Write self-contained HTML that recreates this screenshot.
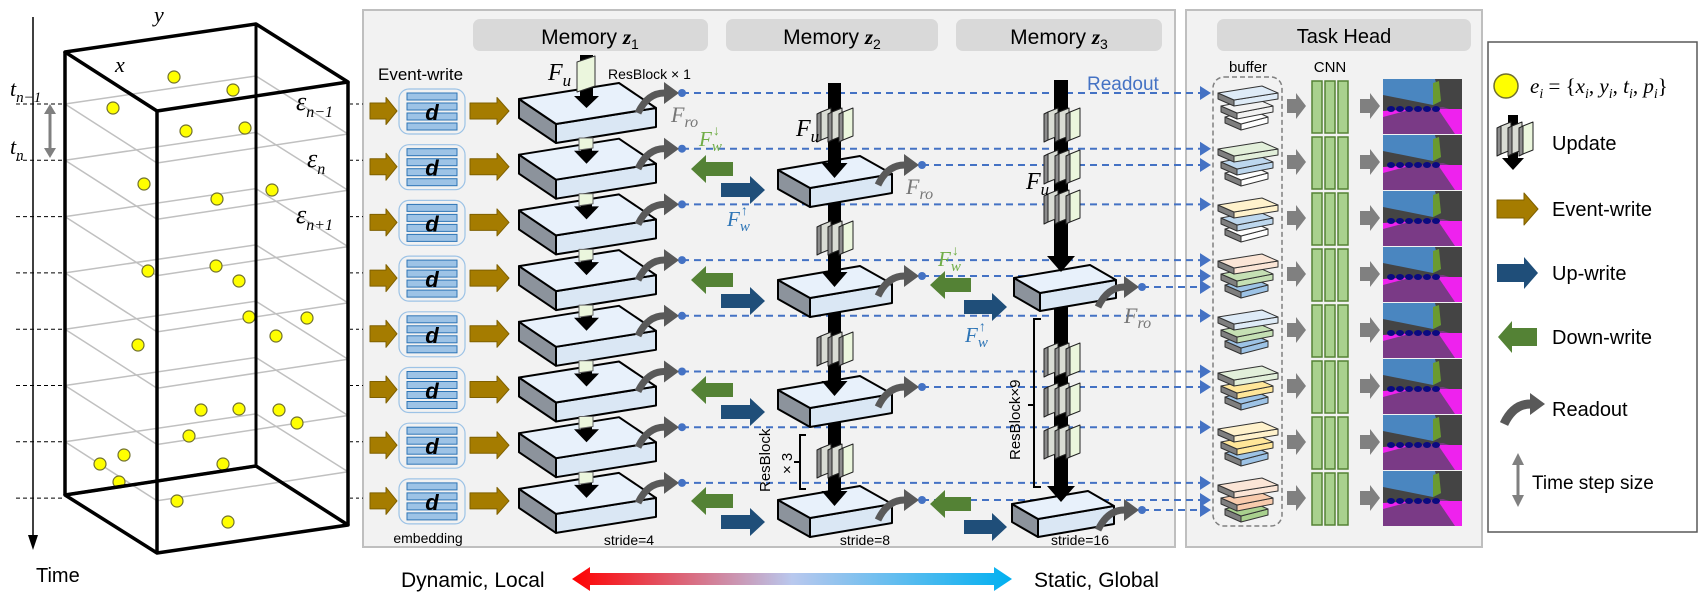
<!DOCTYPE html>
<html><head><meta charset="utf-8">
<style>
html,body{margin:0;padding:0;background:#fff;}
svg{display:block;}
text{font-family:"Liberation Sans",sans-serif;}
.it{font-family:"Liberation Serif",serif;font-style:italic;}
</style></head>
<body>
<svg id="s" width="1703" height="599" viewBox="0 0 1703 599" xmlns="http://www.w3.org/2000/svg">
<defs>
<linearGradient id="grad" x1="0" x2="1" y1="0" y2="0">
<stop offset="0" stop-color="#ff0000"/><stop offset="0.5" stop-color="#b9c8ee"/><stop offset="1" stop-color="#00b0f0"/>
</linearGradient>
</defs>
<!-- panels -->
<rect x="363" y="10" width="812" height="537" fill="#f2f2f2" stroke="#bfbfbf" stroke-width="2"/>
<rect x="1186" y="10" width="296" height="537" fill="#f2f2f2" stroke="#bfbfbf" stroke-width="2"/>
<rect x="1488" y="42" width="209" height="490" fill="#fff" stroke="#595959" stroke-width="1.5"/>
<rect x="473" y="19" width="235" height="32" rx="7" fill="#d9d9d9"/>
<rect x="726" y="19" width="212" height="32" rx="7" fill="#d9d9d9"/>
<rect x="956" y="19" width="206" height="32" rx="7" fill="#d9d9d9"/>
<rect x="1217" y="19" width="254" height="32" rx="7" fill="#d9d9d9"/>
<text x="590" y="44" font-size="21" text-anchor="middle">Memory <tspan font-family="Liberation Serif" font-weight="bold" font-style="italic">z</tspan><tspan font-size="14" dy="5">1</tspan></text>
<text x="832" y="44" font-size="21" text-anchor="middle">Memory <tspan font-family="Liberation Serif" font-weight="bold" font-style="italic">z</tspan><tspan font-size="14" dy="5">2</tspan></text>
<text x="1059" y="44" font-size="21" text-anchor="middle">Memory <tspan font-family="Liberation Serif" font-weight="bold" font-style="italic">z</tspan><tspan font-size="14" dy="5">3</tspan></text>
<text x="1344" y="43" font-size="20" text-anchor="middle">Task Head</text>
<g id="g"></g>
</svg>
<script>
var g=document.getElementById('g');var h='';
function P(pts,f,s,w){return '<polygon points="'+pts.map(function(p){return p[0].toFixed(1)+','+p[1].toFixed(1)}).join(' ')+'" fill="'+f+'" stroke="'+(s||'none')+'" stroke-width="'+(w||1)+'" stroke-linejoin="round"/>';}
function L(x1,y1,x2,y2,c,w,extra){return '<line x1="'+x1+'" y1="'+y1+'" x2="'+x2+'" y2="'+y2+'" stroke="'+c+'" stroke-width="'+w+'" '+(extra||'')+'/>';}
function T(x,y,s,size,extra){return '<text x="'+x+'" y="'+y+'" font-size="'+size+'" '+(extra||'')+'>'+s+'</text>';}
// ---- cube ----
var TF=[[65,52],[256,24],[348,82],[157,111]];
for(var k=0;k<7;k++){var dy=52+56.3*k;var q=TF.map(function(p){return [p[0],p[1]+dy]});
 h+=P(q,'none','#c0c0c0',1.5);}
// dashed lines left
for(var k=0;k<8;k++){var y=104+56.3*k;h+=L(16,y,65,y,'#000',1,'stroke-dasharray="4,3"');h+=L(350,y,363,y,'#000',1,'stroke-dasharray="3,3"');}
// dots
var dots=[[174,77],[233,90],[113,108],[186,131],[245,128],[144,184],[217,199],[272,190],[148,271],[216,266],[239,281],[249,317],[307,318],[138,345],[276,336],[201,410],[239,409],[279,410],[297,423],[189,436],[124,455],[100,464],[223,464],[119,482],[177,501],[228,522]];
dots.forEach(function(d){h+='<circle cx="'+d[0]+'" cy="'+d[1]+'" r="6" fill="#ffff00" stroke="#707030" stroke-width="1.2"/>';});
var blk='#000';
h+=P([[65,52],[256,24],[348,82],[157,111]],'none',blk,3.5);
h+=L(65,52,65,495,blk,3.5)+L(157,111,157,553,blk,3.5)+L(348,82,348,525,blk,3.5)+L(256,24,256,466,blk,3);
h+=P([[65,495],[157,553],[348,525],[256,466]],'none',blk,3.5);
h+=L(65,495,256,466,blk,3);
h+='<text x="154" y="22" font-size="22" class="it">y</text><text x="115" y="72" font-size="22" class="it">x</text>';
// time axis
h+=L(33,17,33,536,'#000',1.5)+P([[28,535],[38,535],[33,550]],'#000');
h+=T(36,582,'Time',20);
h+='<text x="10" y="96" font-size="22" class="it">t<tspan font-size="15" dy="6">n−1</tspan></text>';
h+='<text x="10" y="154" font-size="22" class="it">t<tspan font-size="15" dy="6">n</tspan></text>';
h+=L(50,112,50,150,'#808080',3)+P([[44,114],[56,114],[50,104]],'#808080')+P([[44,148],[56,148],[50,158]],'#808080');
h+='<text x="296" y="110" font-size="26" class="it">ε<tspan font-size="16" dy="7">n−1</tspan></text>';
h+='<text x="307" y="167" font-size="26" class="it">ε<tspan font-size="16" dy="7">n</tspan></text>';
h+='<text x="296" y="223" font-size="26" class="it">ε<tspan font-size="16" dy="7">n+1</tspan></text>';
// ---- arrows helpers ----
function arrR(x1,x2,y,sh,hh,hl,f,s){return P([[x1,y-sh/2],[x2-hl,y-sh/2],[x2-hl,y-hh/2],[x2,y],[x2-hl,y+hh/2],[x2-hl,y+sh/2],[x1,y+sh/2]],f,s,1);}
function arrL(x1,x2,y,sh,hh,hl,f,s){return P([[x2,y-sh/2],[x1+hl,y-sh/2],[x1+hl,y-hh/2],[x1,y],[x1+hl,y+hh/2],[x1+hl,y+sh/2],[x2,y+sh/2]],f,s,1);}
var gold='#a57c00',gs='#7f6000',grn='#548235',blu='#1f4e79';
// ---- event write ----
h+=T(378,80,'Event-write',17);
for(var k=0;k<8;k++){var y=111+55.7*k;
 h+=arrR(370,397,y,16,27,11,gold,gs);
 h+='<rect x="399" y="'+(y-22)+'" width="66" height="45" rx="10" fill="none" stroke="#9dc3e6" stroke-width="1.2"/>';
 for(var b=0;b<4;b++)h+='<rect x="407" y="'+(y-18+b*10)+'" width="50" height="7" fill="#9dc3e6" stroke="#2e75b6" stroke-width="1"/>';
 h+='<text x="432" y="'+(y+9)+'" font-size="22" font-family="Liberation Serif" font-weight="bold" font-style="italic" text-anchor="middle">d</text>';
 h+=arrR(470,509,y,16,27,12,gold,gs);}
h+=T(428,543,'embedding',14,'text-anchor="middle"');
// ---- slab ----
function slab(ax,ay,ab,ad,dz){var A=[ax,ay],B=[ax+ab[0],ay+ab[1]],D=[ax+ad[0],ay+ad[1]],C=[B[0]+ad[0],B[1]+ad[1]];
 var s='';s+=P([A,D,[D[0],D[1]+dz],[A[0],A[1]+dz]],'#8c939c','#000',2);
 s+=P([D,C,[C[0],C[1]+dz],[D[0],D[1]+dz]],'#dae7f4','#000',2);
 s+=P([A,B,C,D],'#e8f1fb','#000',2);return s;}
function head(x,tip,w,hh){return P([[x-w/2,tip-hh],[x+w/2,tip-hh],[x,tip]],'#000');}
function plates(x,y){var s='';for(var i=0;i<3;i++){var px=x+i*11;
 s+=P([[px,y+4],[px+4,y+2],[px+4,y+30],[px,y+32]],'#8c8c8c','#222',1);
 s+=P([[px+4,y+2],[px+14,y-2],[px+14,y+26],[px+4,y+30]],i==2?'#ebf6dd':'#d9dcd4','#222',1);}return s;}
function readout(dx,dy){return '<path d="M'+(dx-44)+' '+(dy+20)+' Q'+(dx-34)+' '+(dy-1)+' '+(dx-16)+' '+dy+'" fill="none" stroke="#595959" stroke-width="7"/>'+P([[dx-18,dy-11],[dx-3,dy],[dx-18,dy+11]],'#595959');}
function dash(x,y){return L(x,y,1203,y,'#4472c4',2,'stroke-dasharray="7,5"')+'<circle cx="'+x+'" cy="'+y+'" r="4" fill="#4472c4"/>'+P([[1200,y-7],[1211,y],[1200,y+7]],'#4472c4');}
// dashed lines first
var z1d=[],z2d=[165,276,387,500],z3d=[287,510];
for(var k=0;k<8;k++){z1d.push(93+55.7*k);}
z1d.forEach(function(y){h+=dash(682,y)});z2d.forEach(function(y){h+=dash(922,y)});z3d.forEach(function(y){h+=dash(1142,y)});
// z1
for(var k=0;k<8;k++){h+=slab(519,99+55.7*k,[100,-16],[37,25],19);}
h+='<rect x="580" y="55" width="13" height="45" fill="#000"/>';
h+=P([[577,62],[595,56],[595,86],[577,92]],'#ebf6dd','#333',1)+head(586.5,108,25,12);
for(var k=1;k<8;k++){var st=138+55.7*(k-1),tip=108+55.7*k;
 h+='<rect x="581" y="'+st+'" width="11" height="'+(tip-st-10)+'" fill="#000"/>';
 h+=P([[579,st],[593,st],[593,st+10],[579,st+12]],'#ebf6dd','#666',1);
 h+=head(586.5,tip,25,13);}
for(var k=0;k<8;k++)h+=readout(682,93+55.7*k);
h+='<text x="548" y="80" font-size="24" class="it">F<tspan font-size="17" dy="6">u</tspan></text>';
h+=T(608,79,'ResBlock × 1',14);
h+='<text x="671" y="122" font-size="22" class="it" fill="#767676">F<tspan font-size="16" dy="5">ro</tspan></text>';
h+='<text x="699" y="146" font-size="21" class="it" fill="#70ad47">F<tspan font-size="15" dy="5">w</tspan><tspan font-size="14" dx="-9" dy="-16" font-style="normal">↓</tspan></text>';
h+='<text x="727" y="226" font-size="21" class="it" fill="#2e75b6">F<tspan font-size="15" dy="5">w</tspan><tspan font-size="14" dx="-9" dy="-16" font-style="normal">↑</tspan></text>';
// between z1-z2
[169,280,390,501].forEach(function(y){h+=arrL(691,733,y,14,28,15,grn)});
[190,301,412,522].forEach(function(y){h+=arrR(721,765,y,14,28,15,blu)});
// z2
h+='<rect x="828" y="83" width="13" height="85" fill="#000"/>';
[280,390,500].forEach(function(ay){h+='<rect x="828" y="'+(ay-85)+'" width="13" height="78" fill="#000"/>';});
[170,280,390,500].forEach(function(ay){h+=slab(778,ay,[82,-14],[32,18],19);});
[178,287,396,506].forEach(function(t){h+='<rect x="828" y="'+(t-40)+'" width="13" height="30" fill="#000"/>'+head(834.5,t,26,15);});
[110,223,334,446].forEach(function(y){h+=plates(817,y)});
z2d.forEach(function(y){h+=readout(922,y)});
h+='<text x="796" y="136" font-size="24" class="it">F<tspan font-size="17" dy="6">u</tspan></text>';
h+='<text x="906" y="194" font-size="22" class="it" fill="#767676">F<tspan font-size="16" dy="5">ro</tspan></text>';
h+='<path d="M806 435 h-6 v54 h6" fill="none" stroke="#000" stroke-width="2"/>'+L(794,462,800,462,'#000',2);
h+='<text transform="translate(770,492) rotate(-90)" font-size="15">ResBlock</text>';
h+='<text transform="translate(792,474) rotate(-90)" font-size="15">× 3</text>';
h+=T(865,545,'stride=8',14,'text-anchor="middle"');
h+=T(629,545,'stride=4',14,'text-anchor="middle"');
// z2-z3
[285,504].forEach(function(y){h+=arrL(930,971,y,14,28,15,grn)});
[307,527].forEach(function(y){h+=arrR(964,1007,y,14,28,15,blu)});
h+='<text x="938" y="266" font-size="21" class="it" fill="#70ad47">F<tspan font-size="15" dy="5">w</tspan><tspan font-size="14" dx="-9" dy="-16" font-style="normal">↓</tspan></text>';
h+='<text x="965" y="342" font-size="21" class="it" fill="#2e75b6">F<tspan font-size="15" dy="5">w</tspan><tspan font-size="14" dx="-9" dy="-16" font-style="normal">↑</tspan></text>';
// z3
h+='<rect x="1054" y="80" width="14" height="180" fill="#000"/>';
h+='<rect x="1054" y="300" width="14" height="190" fill="#000"/>';
h+=slab(1014,278,[76,-13],[26,15],18);h+=slab(1012,504,[76,-13],[26,15],18);
h+=head(1061,272,28,16)+head(1061,502,28,16);
[110,152,192,345,385,427].forEach(function(y){h+=plates(1044,y)});
z3d.forEach(function(y){h+=readout(1142,y)});
h+='<text x="1026" y="189" font-size="24" class="it">F<tspan font-size="17" dy="6">u</tspan></text>';
h+='<text x="1124" y="323" font-size="22" class="it" fill="#767676">F<tspan font-size="16" dy="5">ro</tspan></text>';
h+='<path d="M1041 319 h-7 v168 h7" fill="none" stroke="#000" stroke-width="2"/>'+L(1028,405,1034,405,'#000',2);
h+='<text transform="translate(1020,460) rotate(-90)" font-size="15">ResBlock×9</text>';
h+=T(1080,545,'stride=16',14,'text-anchor="middle"');
h+=T(1087,90,'Readout',19,'fill="#4472c4"');
// gradient arrow
h+=P([[572,579],[590,567],[590,573],[994,573],[994,567],[1012,579],[994,591],[994,585],[590,585],[590,591]],'url(#grad)');
h+=T(401,587,'Dynamic, Local',21);
h+=T(1034,587,'Static, Global',21);
// ---- task head ----
h+='<rect x="1213" y="77" width="69" height="449" rx="11" fill="none" stroke="#808080" stroke-width="1.5" stroke-dasharray="5,3"/>';
h+=T(1248,72,'buffer',15,'text-anchor="middle"')+T(1330,72,'CNN',15,'text-anchor="middle"');
var cols=[['#deebf7','#f2f2f2','#ffffff'],['#e2efda','#bdd7ee','#ffffff'],['#fff2cc','#bdd7ee','#ffffff'],['#fbe5d6','#c5e0b4','#9dc3e6'],['#deebf7','#c5e0b4','#9dc3e6'],['#e2efda','#ffe699','#9dc3e6'],['#fff2cc','#ffe699','#9dc3e6'],['#fbe5d6','#f8cbad','#a9d18e']];
function bslab(x,y,w,c){return slab(x,y,[w-16,-7],[16,7],6).replace(/#e8f1fb/,c).replace(/#dae7f4/,c).replace(/#8c939c/,'#8c939c');}
function bs(x,y,w,c){var A=[x,y],B=[x+w-16,y-7],D=[x+16,y+7],C=[x+w,y];var dz=6;
 return P([A,D,[D[0],D[1]+dz],[A[0],A[1]+dz]],'#7f7f7f','#333',1)+P([D,C,[C[0],C[1]+dz],[D[0],D[1]+dz]],c,'#333',1)+P([A,B,C,D],c,'#333',1);}
for(var k=0;k<8;k++){var y0=79+56*k;var c=cols[k];
 h+=bs(1225,y0+38,43,c[2])+bs(1221,y0+27,52,c[1])+bs(1218,y0+14,60,c[0]);
 h+=arrR(1287,1306,y0+27,14,26,10,'#808080');
 for(var i=0;i<3;i++)h+='<rect x="'+(1312+i*13)+'" y="'+(y0+2)+'" width="10" height="52" fill="#a9d18e" stroke="#548235" stroke-width="1.5"/>';
 h+=arrR(1360,1380,y0+27,14,26,10,'#808080');
 var x=1383,w=79,hh=55;
 h+='<rect x="'+x+'" y="'+y0+'" width="'+w+'" height="'+hh+'" fill="#444"/>';
 h+=P([[x,y0],[x+52,y0],[x+58,y0+22],[x+50,y0+26],[x,y0+16]],'#4a86c0');
 h+=P([[x+50,y0+4],[x+56,y0+2],[x+58,y0+22],[x+50,y0+26]],'#6a9a30');
 h+=P([[x,y0+33],[x+60,y0+28],[x+79,y0+34],[x+79,y0+55],[x,y0+55]],'#7a3a86');
 h+=P([[x+55,y0+30],[x+79,y0+30],[x+79,y0+55],[x+72,y0+55]],'#ee22ee');
 h+=P([[x,y0+32],[x+30,y0+30],[x,y0+38]],'#ee22ee');
 for(var j=0;j<6;j++)h+='<ellipse cx="'+(x+8+j*9)+'" cy="'+(y0+30)+'" rx="4" ry="3" fill="#0a0a80"/>';
}
// ---- legend ----
h+='<circle cx="1506" cy="86" r="12" fill="#ffff00" stroke="#707030" stroke-width="1.5"/>';
h+='<text x="1530" y="93" font-size="21" class="it">e<tspan font-size="14" dy="5">i</tspan><tspan dy="-5" font-style="normal"> = {</tspan>x<tspan font-size="14" dy="5">i</tspan><tspan dy="-5" font-style="normal">, </tspan>y<tspan font-size="14" dy="5">i</tspan><tspan dy="-5" font-style="normal">, </tspan>t<tspan font-size="14" dy="5">i</tspan><tspan dy="-5" font-style="normal">, </tspan>p<tspan font-size="14" dy="5">i</tspan><tspan dy="-5" font-style="normal">}</tspan></text>';
h+='<rect x="1508" y="115" width="10" height="45" fill="#000"/>'+plates(1497,124)+head(1513,170,22,12);
h+=T(1552,150,'Update',20);
h+=arrR(1497,1538,209,18,32,14,gold,gs)+T(1552,216,'Event-write',20);
h+=arrR(1497,1538,273,18,32,14,blu)+T(1552,280,'Up-write',20);
h+=arrL(1498,1537,337,18,32,14,grn)+T(1552,344,'Down-write',20);
h+=readout(1548,404).replace('stroke-width="7"','stroke-width="9"')+T(1552,416,'Readout',20);
h+=L(1518,462,1518,498,'#808080',3)+P([[1512,465],[1524,465],[1518,453]],'#808080')+P([[1512,495],[1524,495],[1518,507]],'#808080');
h+=T(1532,489,'Time step size',19);
g.innerHTML=h;
</script>
</body></html>
